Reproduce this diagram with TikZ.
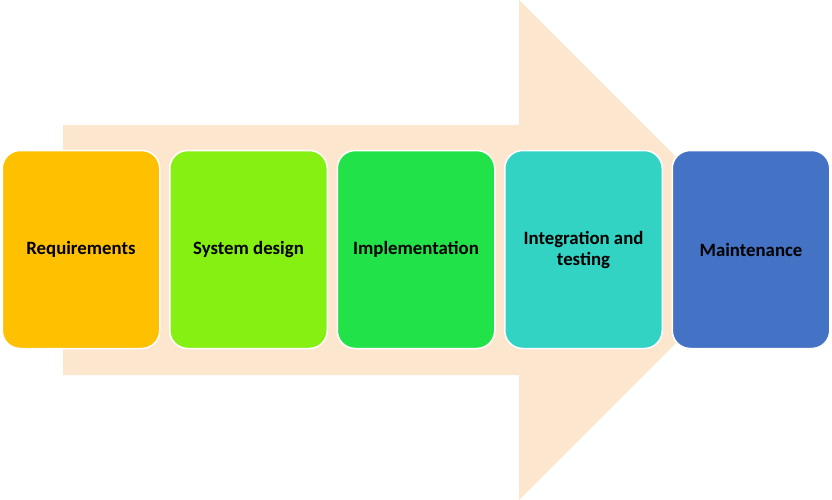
\documentclass[tikz,border=0pt]{standalone}
\usepackage{fontspec}
\setmainfont{Carlito}
\usepackage{xcolor}
\usepackage{tikz}
\usetikzlibrary{positioning}
\definecolor{arrowpeach}{RGB}{253,230,206}
\definecolor{boxamber}{RGB}{255,192,0}
\definecolor{boxlime}{RGB}{134,240,18}
\definecolor{boxgreen}{RGB}{34,226,74}
\definecolor{boxteal}{RGB}{51,211,196}
\definecolor{boxblue}{RGB}{68,114,196}

\begin{document}
\begin{tikzpicture}[
    x=1pt, y=-1pt,
    phase/.style ={rectangle, rounded corners=18pt, draw=white, line width=1.5pt, align=center,
                   minimum width=157.5pt, minimum height=198pt, inner sep=4pt,
                   font=\bfseries\fontsize{18.8}{21}\selectfont},
    node distance=8.5pt
]
\useasboundingbox (0,0) rectangle (832,500);
% --- big background arrow ---
\fill[arrowpeach] (63,125) -- (519,125) -- (519,0) -- (769,250)
                  -- (519,500) -- (519,375) -- (63,375) -- cycle;
% --- phases ---
\node[phase, fill=boxamber, anchor=west] (req) at (1.5,249.5) {Requirements};
\node[phase, fill=boxlime,  right=of req]  (design) {System design};
\node[phase, fill=boxgreen, right=of design] (impl) {Implementation};
\node[phase, fill=boxteal,  right=of impl]   (integ) {Integration and\\testing};
\node[phase, fill=boxblue,  right=of integ]  (maint) {Maintenance};
\end{tikzpicture}
\end{document}
